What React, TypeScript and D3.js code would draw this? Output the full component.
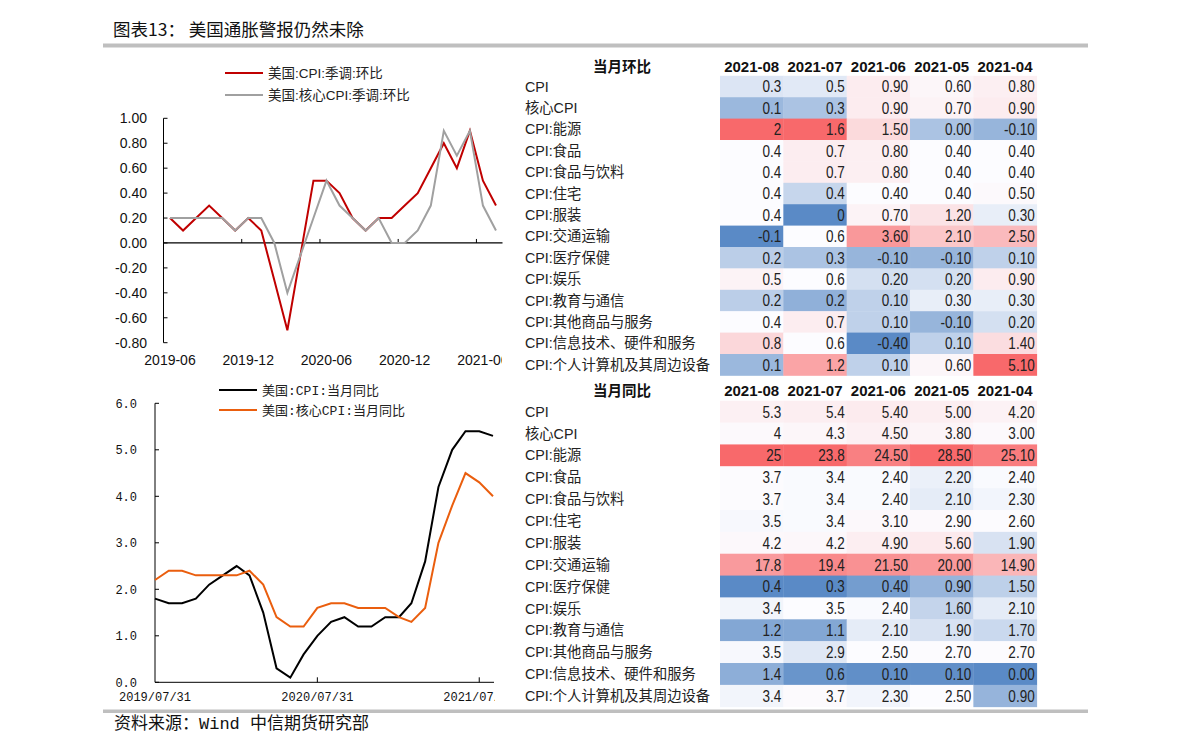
import React from 'react';
import * as d3 from 'd3';

const W = 1191;
const H = 753;

// ---------- Chart 1: MoM (seasonally adjusted) ----------
const momCategories = [
  '2019-06', '2019-07', '2019-08', '2019-09', '2019-10', '2019-11', '2019-12',
  '2020-01', '2020-02', '2020-03', '2020-04', '2020-05', '2020-06', '2020-07',
  '2020-08', '2020-09', '2020-10', '2020-11', '2020-12', '2021-01', '2021-02',
  '2021-03', '2021-04', '2021-05', '2021-06', '2021-07',
];
const momCpi = [0.2, 0.1, 0.2, 0.3, 0.2, 0.1, 0.2, 0.1, -0.3, -0.7, -0.1, 0.5, 0.5, 0.4, 0.2, 0.1, 0.2, 0.2, 0.3, 0.4, 0.6, 0.8, 0.6, 0.9, 0.5, 0.3];
const momCore = [0.2, 0.2, 0.2, 0.2, 0.2, 0.1, 0.2, 0.2, 0.0, -0.4, -0.1, 0.2, 0.5, 0.3, 0.2, 0.1, 0.2, 0.0, 0.0, 0.1, 0.3, 0.9, 0.7, 0.9, 0.3, 0.1];
const momTickLabels = ['2019-06', '2019-12', '2020-06', '2020-12', '2021-06'];
const momYTicks = [1.0, 0.8, 0.6, 0.4, 0.2, 0.0, -0.2, -0.4, -0.6, -0.8];
const momSeriesNames = ['美国:CPI:季调:环比', '美国:核心CPI:季调:环比'];

// ---------- Chart 2: YoY ----------
const yoyDates = [
  '2019-07-31', '2019-08-31', '2019-09-30', '2019-10-31', '2019-11-30', '2019-12-31',
  '2020-01-31', '2020-02-29', '2020-03-31', '2020-04-30', '2020-05-31', '2020-06-30',
  '2020-07-31', '2020-08-31', '2020-09-30', '2020-10-31', '2020-11-30', '2020-12-31',
  '2021-01-31', '2021-02-28', '2021-03-31', '2021-04-30', '2021-05-31', '2021-06-30',
  '2021-07-31', '2021-08-31',
];
const yoyCpi = [1.8, 1.7, 1.7, 1.8, 2.1, 2.3, 2.5, 2.3, 1.5, 0.3, 0.1, 0.6, 1.0, 1.3, 1.4, 1.2, 1.2, 1.4, 1.4, 1.7, 2.6, 4.2, 5.0, 5.4, 5.4, 5.3];
const yoyCore = [2.2, 2.4, 2.4, 2.3, 2.3, 2.3, 2.3, 2.4, 2.1, 1.4, 1.2, 1.2, 1.6, 1.7, 1.7, 1.6, 1.6, 1.6, 1.4, 1.3, 1.6, 3.0, 3.8, 4.5, 4.3, 4.0];
const yoyTickDates = ['2019-07-31', '2020-07-31', '2021-07-31'];
const yoyTickLabels = ['2019/07/31', '2020/07/31', '2021/07/31'];
const yoyYTicks = [0, 1, 2, 3, 4, 5, 6];
const yoySeriesNames = ['美国:CPI:当月同比', '美国:核心CPI:当月同比'];

// ---------- Tables ----------
const tableColumns = ['2021-08', '2021-07', '2021-06', '2021-05', '2021-04'];
const rowLabels = [
  'CPI', '核心CPI', 'CPI:能源', 'CPI:食品', 'CPI:食品与饮料', 'CPI:住宅', 'CPI:服装',
  'CPI:交通运输', 'CPI:医疗保健', 'CPI:娱乐', 'CPI:教育与通信', 'CPI:其他商品与服务',
  'CPI:信息技术、硬件和服务', 'CPI:个人计算机及其周边设备',
];
const momTable = [
  [0.3, 0.5, 0.9, 0.6, 0.8],
  [0.1, 0.3, 0.9, 0.7, 0.9],
  [2, 1.6, 1.5, 0.0, -0.1],
  [0.4, 0.7, 0.8, 0.4, 0.4],
  [0.4, 0.7, 0.8, 0.4, 0.4],
  [0.4, 0.4, 0.4, 0.4, 0.5],
  [0.4, 0, 0.7, 1.2, 0.3],
  [-0.1, 0.6, 3.6, 2.1, 2.5],
  [0.2, 0.3, -0.1, -0.1, 0.1],
  [0.5, 0.6, 0.2, 0.2, 0.9],
  [0.2, 0.2, 0.1, 0.3, 0.3],
  [0.4, 0.7, 0.1, -0.1, 0.2],
  [0.8, 0.6, -0.4, 0.1, 1.4],
  [0.1, 1.2, 0.1, 0.6, 5.1],
];
const yoyTable = [
  [5.3, 5.4, 5.4, 5.0, 4.2],
  [4, 4.3, 4.5, 3.8, 3.0],
  [25, 23.8, 24.5, 28.5, 25.1],
  [3.7, 3.4, 2.4, 2.2, 2.4],
  [3.7, 3.4, 2.4, 2.1, 2.3],
  [3.5, 3.4, 3.1, 2.9, 2.6],
  [4.2, 4.2, 4.9, 5.6, 1.9],
  [17.8, 19.4, 21.5, 20.0, 14.9],
  [0.4, 0.3, 0.4, 0.9, 1.5],
  [3.4, 3.5, 2.4, 1.6, 2.1],
  [1.2, 1.1, 2.1, 1.9, 1.7],
  [3.5, 2.9, 2.5, 2.7, 2.7],
  [1.4, 0.6, 0.1, 0.1, 0.0],
  [3.4, 3.7, 2.3, 2.5, 0.9],
];

// style config
const colorGroups = [[0], [1], [2, 3, 4]];
const fixedDecimalCols = [2, 3, 4];
const C_MIN = '#5A8AC6';
const C_MID = '#FCFCFF';
const C_MAX = '#F8696B';

const SANS = "'Liberation Sans', 'Noto Sans CJK SC', sans-serif";
const MONO = "'Liberation Mono', 'Noto Sans CJK SC', monospace";
const CJK = "'Noto Sans CJK SC', 'Liberation Sans', sans-serif";

function colorScales(values: number[][]) {
  const scales: ((v: number) => string)[] = [];
  colorGroups.forEach((cols) => {
    const vals: number[] = [];
    values.forEach((row) => cols.forEach((c) => vals.push(row[c])));
    vals.sort(d3.ascending);
    const mn = d3.min(vals) as number;
    const mx = d3.max(vals) as number;
    const md = d3.quantile(vals, 0.5) as number;
    const s = d3
      .scaleLinear<string>()
      .domain([mn, md, mx])
      .range([C_MIN, C_MID, C_MAX])
      .interpolate(d3.interpolateRgb)
      .clamp(true);
    cols.forEach((c) => (scales[c] = s));
  });
  return scales;
}

function fmt(v: number, col: number) {
  if (fixedDecimalCols.includes(col)) return v.toFixed(2);
  return String(v);
}

function Table({ title, values, headerY, top, rowH }: { title: string; values: number[][]; headerY: number; top: number; rowH: number }) {
  const x = d3.scaleBand<string>().domain(tableColumns).range([720, 1036.7]);
  const y = d3.scaleBand<string>().domain(rowLabels).range([top, top + rowH * rowLabels.length]);
  const scales = colorScales(values);
  return (
    <g>
      <text x={622} y={headerY} dy="0.35em" textAnchor="middle" fontFamily={CJK} fontWeight="bold" fontSize={14.5} fill="#111">
        {title}
      </text>
      {tableColumns.map((c) => (
        <text key={c} x={(x(c) as number) + x.bandwidth() / 2} y={headerY} dy="0.35em" textAnchor="middle" fontFamily={SANS} fontWeight="bold" fontSize={15} fill="#111">
          {c}
        </text>
      ))}
      {values.map((row, ri) =>
        row.map((v, ci) => (
          <rect
            key={`r${ri}-${ci}`}
            x={x(tableColumns[ci])}
            y={y(rowLabels[ri])}
            width={x.bandwidth() + 0.4}
            height={y.bandwidth() + 0.4}
            fill={scales[ci](v)}
          />
        ))
      )}
      {rowLabels.map((l) => (
        <text key={l} x={525} y={(y(l) as number) + y.bandwidth() / 2} dy="0.36em" fontFamily={SANS} fontSize={14.3} fill="#222">
          {l}
        </text>
      ))}
      {values.map((row, ri) =>
        row.map((v, ci) => (
          <text
            key={`t${ri}-${ci}`}
            transform={`translate(${(x(tableColumns[ci]) as number) + x.bandwidth() - 2},${(y(rowLabels[ri]) as number) + y.bandwidth() / 2}) scale(0.82,1)`}
            dy="0.36em"
            textAnchor="end"
            fontFamily={SANS}
            fontSize={16.5}
            fill="#222"
          >
            {fmt(v, ci)}
          </text>
        ))
      )}
    </g>
  );
}

export default function App() {
  // chart 1 scales
  const x1 = d3.scaleBand<string>().domain(momCategories).range([163.5, 502.5]);
  const y1 = d3.scaleLinear().domain([-0.8, 1.0]).range([342.7, 118.3]);
  const cx1 = (i: number) => (x1(momCategories[i]) as number) + x1.bandwidth() / 2;
  const line1 = d3.line<number>().x((_, i) => cx1(i)).y((d) => y1(d));

  // chart 2 scales
  const parse = d3.utcParse('%Y-%m-%d');
  const dates = yoyDates.map((d) => parse(d) as Date);
  const x2 = d3.scaleUtc().domain([dates[0], dates[dates.length - 1]]).range([155, 493]);
  const y2 = d3.scaleLinear().domain([0, 6]).range([682.3, 403.3]);
  const line2 = d3.line<number>().x((_, i) => x2(dates[i])).y((d) => y2(d));

  const zeroY = y1(0);

  return (
    <svg width={W} height={H} viewBox={`0 0 ${W} ${H}`} style={{ position: 'absolute', left: 0, top: 0, background: '#fff' }}>
      <defs>
        <clipPath id="clip1">
          <rect x={0} y={0} width={502} height={H} />
        </clipPath>
        <clipPath id="clip2">
          <rect x={0} y={0} width={495} height={H} />
        </clipPath>
      </defs>
      <rect x={0} y={0} width={W} height={H} fill="#fff" />

      {/* title & frame bars */}
      <text x={113} y={30} dy="0.35em" fontFamily={CJK} fontSize={17.5} fill="#111">
        图表13： 美国通胀警报仍然未除
      </text>
      <rect x={103} y={43.5} width={985} height={4} fill="#BFBFBF" />
      <rect x={103} y={709.5} width={985} height={3.5} fill="#BFBFBF" />
      <text x={114} y={723} dy="0.35em" fontFamily={MONO} fontSize={17} fill="#111">
        资料来源：Wind 中信期货研究部
      </text>

      {/* ---------- chart 1 ---------- */}
      <g>
        {/* legend */}
        <line x1={225} x2={263} y1={73} y2={73} stroke="#C00000" strokeWidth={2} />
        <text x={268} y={73} dy="0.35em" fontFamily={SANS} fontSize={13.5} fill="#222">
          {momSeriesNames[0]}
        </text>
        <line x1={225} x2={263} y1={95} y2={95} stroke="#A0A0A0" strokeWidth={2} />
        <text x={268} y={95} dy="0.35em" fontFamily={SANS} fontSize={13.5} fill="#222">
          {momSeriesNames[1]}
        </text>

        {/* y axis */}
        <line x1={163.5} x2={163.5} y1={y1(1.0)} y2={y1(-0.8)} stroke="#000" strokeWidth={1} />
        {momYTicks.map((t) => (
          <g key={t}>
            <line x1={163.5} x2={167.5} y1={y1(t)} y2={y1(t)} stroke="#000" strokeWidth={1} />
            <text x={147} y={y1(t)} dy="0.35em" textAnchor="end" fontFamily={SANS} fontSize={14} fill="#111">
              {t.toFixed(2)}
            </text>
          </g>
        ))}
        {/* x axis at zero */}
        <line x1={163.5} x2={502.5} y1={zeroY} y2={zeroY} stroke="#000" strokeWidth={1.3} />
        {momTickLabels.slice(1).map((l) => (
          <line key={l} x1={x1(l)} x2={x1(l)} y1={zeroY - 4} y2={zeroY} stroke="#000" strokeWidth={1} />
        ))}
        <g clipPath="url(#clip1)">
          {momTickLabels.map((l) => (
            <text key={l} x={(x1(l) as number) + x1.bandwidth() / 2} y={360} dy="0.35em" textAnchor="middle" fontFamily={SANS} fontSize={14} fill="#111">
              {l}
            </text>
          ))}
        </g>
        <path d={line1(momCpi) as string} fill="none" stroke="#C00000" strokeWidth={2} />
        <path d={line1(momCore) as string} fill="none" stroke="#A0A0A0" strokeWidth={2} />
      </g>

      {/* ---------- chart 2 ---------- */}
      <g>
        <line x1={219} x2={257} y1={390} y2={390} stroke="#000" strokeWidth={2} />
        <text x={262} y={390} dy="0.35em" fontFamily={MONO} fontSize={13} fill="#222">
          {yoySeriesNames[0]}
        </text>
        <line x1={219} x2={257} y1={410} y2={410} stroke="#EA5E0E" strokeWidth={2} />
        <text x={262} y={410} dy="0.35em" fontFamily={MONO} fontSize={13} fill="#222">
          {yoySeriesNames[1]}
        </text>

        <line x1={155} x2={155} y1={y2(6)} y2={y2(0)} stroke="#000" strokeWidth={1} />
        {yoyYTicks.map((t) => (
          <g key={t}>
            <line x1={155} x2={159} y1={y2(t)} y2={y2(t)} stroke="#000" strokeWidth={1} />
            <text x={137} y={y2(t)} dy="0.35em" textAnchor="end" fontFamily={MONO} fontSize={12} fill="#111">
              {t.toFixed(1)}
            </text>
          </g>
        ))}
        <line x1={155} x2={494} y1={y2(0)} y2={y2(0)} stroke="#000" strokeWidth={1} />
        {yoyTickDates.slice(1).map((d) => (
          <line key={d} x1={x2(parse(d) as Date)} x2={x2(parse(d) as Date)} y1={y2(0) - 5} y2={y2(0)} stroke="#000" strokeWidth={1} />
        ))}
        <g clipPath="url(#clip2)">
          {yoyTickDates.map((d, i) => (
            <text key={d} x={x2(parse(d) as Date)} y={697} dy="0.35em" textAnchor="middle" fontFamily={MONO} fontSize={12} fill="#111">
              {yoyTickLabels[i]}
            </text>
          ))}
        </g>
        <path d={line2(yoyCpi) as string} fill="none" stroke="#000" strokeWidth={2} />
        <path d={line2(yoyCore) as string} fill="none" stroke="#EA5E0E" strokeWidth={2} />
      </g>

      {/* ---------- tables ---------- */}
      <Table title="当月环比" values={momTable} headerY={66.5} top={75.8} rowH={21.4} />
      <Table title="当月同比" values={yoyTable} headerY={391} top={400.7} rowH={21.86} />
    </svg>
  );
}
